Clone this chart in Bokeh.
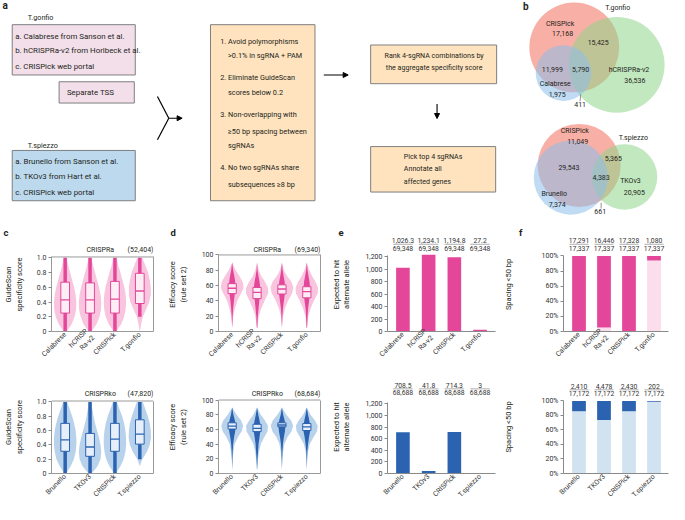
import math
from bokeh.plotting import figure
from bokeh.layouts import column, row
from bokeh.models import (Range1d, FixedTicker, NumeralTickFormatter, PrintfTickFormatter,
                          Arrow, NormalHead, LinearAxis, Span)
from bokeh.core.properties import value
from bokeh.embed import file_html
from bokeh.resources import INLINE

FONT = "Roboto"
SX = 669 / 685
SY = 504 / 520
INK = "#231f20"
GRAY = "#8a8a8a"
BOXC = "#9a9a9a"

# ---------------- data ----------------
gonfio_sources = ["a. Calabrese from Sanson et al.", "b. hCRISPRa-v2 from Horlbeck et al.",
                  "c. CRISPick web portal"]
spiezzo_sources = ["a. Brunello from Sanson et al.", "b. TKOv3 from Hart et al.",
                   "c. CRISPick web portal"]
filter_steps = ["1. Avoid polymorphisms", ">0.1% in sgRNA + PAM", "2. Eliminate GuideScan",
                "scores below 0.2", "3. Non-overlapping with", "\u226550 bp spacing between",
                "sgRNAs", "4. No two sgRNAs share", "subsequences \u22658 bp"]
rank_text = ["Rank 4-sgRNA combinations by", "the aggregate specificity score"]
pick_text = ["Pick top 4 sgRNAs", "Annotate all", "affected genes"]

venn_a_text = ["CRISPick", "17,168", "15,425", "11,999", "5,790", "hCRISPRa-v2", "36,536",
               "Calabrese", "1,975", "411"]
venn_o_text = ["CRISPick", "11,049", "5,365", "29,543", "4,383", "TKOv3", "20,905",
               "Brunello", "7,374", "661"]

crispra_libs = ["Calabrese", "hCRISP\nRa-v2", "CRISPick", "T.gonfio"]
crisprko_libs = ["Brunello", "TKOv3", "CRISPick", "T.spiezzo"]
cats = [1, 2, 3, 4]

# c: GuideScan specificity
spec_levels = [0.0, 0.05, 0.1, 0.2, 0.3, 0.4, 0.5, 0.6, 0.7, 0.8, 0.9, 1.0]
spec_a_width = [
    [0.06, 0.16, 0.26, 0.38, 0.44, 0.45, 0.42, 0.36, 0.28, 0.20, 0.12, 0.06],
    [0.06, 0.16, 0.26, 0.38, 0.44, 0.45, 0.42, 0.36, 0.28, 0.20, 0.12, 0.06],
    [0.06, 0.15, 0.25, 0.37, 0.43, 0.45, 0.43, 0.38, 0.30, 0.22, 0.13, 0.07],
    [0.00, 0.03, 0.05, 0.12, 0.25, 0.38, 0.44, 0.44, 0.40, 0.33, 0.22, 0.10],
]
spec_o_width = [
    [0.05, 0.12, 0.22, 0.35, 0.42, 0.45, 0.45, 0.42, 0.36, 0.28, 0.18, 0.08],
    [0.06, 0.18, 0.30, 0.42, 0.45, 0.42, 0.36, 0.28, 0.20, 0.14, 0.09, 0.04],
    [0.05, 0.12, 0.22, 0.35, 0.42, 0.45, 0.45, 0.42, 0.37, 0.29, 0.18, 0.08],
    [0.00, 0.00, 0.00, 0.10, 0.28, 0.40, 0.45, 0.44, 0.40, 0.32, 0.22, 0.12],
]
spec_a_q1 = [0.25, 0.25, 0.25, 0.38]
spec_a_med = [0.43, 0.43, 0.44, 0.55]
spec_a_q3 = [0.67, 0.66, 0.68, 0.79]
spec_a_lo = [0.0, 0.0, 0.0, 0.2]
spec_a_hi = [1.0, 1.0, 1.0, 1.0]
spec_o_q1 = [0.31, 0.24, 0.31, 0.41]
spec_o_med = [0.47, 0.37, 0.48, 0.55]
spec_o_q3 = [0.70, 0.56, 0.70, 0.75]
spec_o_lo = [0.0, 0.0, 0.0, 0.2]
spec_o_hi = [1.0, 1.0, 1.0, 1.0]

# d: efficacy score (rule set 2)
eff_levels = [5, 20, 30, 40, 50, 57, 65, 72, 80, 90]
eff_a_outer = [
    [0.00, 0.04, 0.11, 0.20, 0.36, 0.46, 0.42, 0.30, 0.14, 0.00],
    [0.01, 0.07, 0.17, 0.30, 0.45, 0.44, 0.32, 0.18, 0.07, 0.00],
    [0.00, 0.04, 0.12, 0.24, 0.41, 0.46, 0.38, 0.22, 0.08, 0.00],
    [0.01, 0.06, 0.15, 0.28, 0.44, 0.45, 0.35, 0.22, 0.10, 0.00],
]
eff_a_inner = [
    [0.00, 0.02, 0.04, 0.07, 0.11, 0.13, 0.12, 0.09, 0.04, 0.00],
    [0.01, 0.03, 0.06, 0.09, 0.13, 0.13, 0.10, 0.06, 0.02, 0.00],
    [0.00, 0.02, 0.04, 0.08, 0.12, 0.13, 0.11, 0.07, 0.03, 0.00],
    [0.01, 0.03, 0.05, 0.09, 0.13, 0.13, 0.11, 0.07, 0.03, 0.00],
]
eff_o_outer = [
    [0.00, 0.02, 0.05, 0.10, 0.24, 0.38, 0.44, 0.36, 0.18, 0.00],
    [0.01, 0.04, 0.08, 0.15, 0.30, 0.42, 0.44, 0.32, 0.15, 0.00],
    [0.00, 0.02, 0.05, 0.10, 0.23, 0.38, 0.45, 0.37, 0.18, 0.00],
    [0.00, 0.02, 0.05, 0.12, 0.28, 0.41, 0.44, 0.33, 0.15, 0.00],
]
eff_o_inner = [
    [0.00, 0.01, 0.02, 0.04, 0.08, 0.12, 0.14, 0.11, 0.05, 0.00],
    [0.00, 0.02, 0.04, 0.06, 0.10, 0.13, 0.14, 0.10, 0.05, 0.00],
    [0.00, 0.01, 0.02, 0.04, 0.08, 0.12, 0.14, 0.11, 0.05, 0.00],
    [0.00, 0.01, 0.02, 0.05, 0.09, 0.13, 0.14, 0.10, 0.05, 0.00],
]
eff_a_q1 = [49.5, 43.0, 49.0, 44.0]
eff_a_med = [56.5, 51.0, 55.5, 52.0]
eff_a_q3 = [62.5, 57.5, 61.0, 58.5]
eff_o_q1 = [60.5, 57.0, 63.5, 58.5]
eff_o_med = [64.5, 61.5, 66.0, 63.5]
eff_o_q3 = [69.0, 67.0, 69.0, 68.0]

# e: expected to hit alternate allele
allele_a = [1026.3, 1234.1, 1194.8, 27.2]
allele_a_num = ["1,026.3", "1,234.1", "1,194.8", "27.2"]
allele_a_den = ["69,348", "69,348", "69,348", "69,348"]
allele_o = [708.5, 41.8, 714.3, 3.0]
allele_o_num = ["708.5", "41.8", "714.3", "3"]
allele_o_den = ["68,688", "68,688", "68,688", "68,688"]

# f: spacing < 50 bp
spacing_a_hit = [17291, 16446, 17328, 1080]
spacing_a_tot = [17337, 17337, 17337, 17337]
spacing_o_hit = [2410, 4478, 2430, 202]
spacing_o_tot = [17172, 17172, 17172, 17172]

PINK = "#E4479A"
PINK_V = "#F8C4DE"
PINK_BOX = "#FDEEF6"
PINK_F = "#FCDDEC"
BLUE = "#2B63B0"
BLUE_V = "#B8D2EC"
BLUE_BOX = "#E7F0FA"
BLUE_F = "#D1E3F0"

# ---------------- geometry (reference pixel frame) ----------------
TOP_END = 245
COLS = [(0, 168), (168, 336), (336, 512), (512, 685)]
ROWS = [(245, 392), (392, 520)]
FRAME_Y = [(245, 342), (392, 492)]

# ---------------- top: schematic (a) and Venn diagrams (b) ----------------
TOP_H = round(TOP_END * SY)
top = figure(width=669, height=TOP_H, x_range=Range1d(0, 685), y_range=Range1d(TOP_END, 0),
             toolbar_location=None, output_backend="svg", title=None, min_border=0,
             x_axis_location=None, y_axis_location=None)
top.grid.visible = False
top.outline_line_color = None


def ttext(p, xs, ys, texts, align="left", size="7px", bold=False, color=INK):
    p.text(x=xs, y=ys, text=texts, text_align=align, text_baseline="middle",
           text_font=value(FONT), text_font_size=size, text_color=color,
           text_font_style="bold" if bold else "normal")


top.quad(left=[12, 60, 12, 215, 379, 379], right=[138, 137, 138, 322, 508, 507],
         top=[25, 84, 155, 25, 46, 151], bottom=[77, 106, 207, 207, 86, 198],
         fill_color=["#F3DFEA", "#F3DFEA", "#BCD9EE", "#FEE3BE", "#FEE3BE", "#FEE3BE"],
         line_color="#7f7f7f", line_width=1)
ttext(top, [2, 535], [5, 6], ["a", "b"], size="10px", bold=True)
ttext(top, [3, 174, 346, 531], [239.5, 239.5, 239.5, 239.5], ["c", "d", "e", "f"],
      size="9.5px", bold=True)
ttext(top, [28, 28], [18, 150], ["T.gonfio", "T.spiezzo"], size="7.2px")
ttext(top, [15] * 3, [37, 52, 68], gonfio_sources, size="7.9px")
ttext(top, [68], [95], ["Separate TSS"], size="7.9px")
ttext(top, [15] * 3, [166, 182, 198], spiezzo_sources, size="7.9px")
ttext(top, [225, 233, 225, 233, 225, 233, 233, 225, 233],
      [42, 57, 80, 95, 118, 135, 150, 173, 190], filter_steps, size="7.3px")
ttext(top, [444, 444], [57, 69], rank_text, align="center", size="7.1px")
ttext(top, [413] * 3, [161, 174, 187], pick_text, size="7.1px")

top.line([160.7, 172.3], [99.3, 121.7], line_color="black", line_width=1.2)
top.line([160.7, 172.3], [144.0, 121.7], line_color="black", line_width=1.2)
for (x0, y0, x1, y1) in [(172.3, 121.7, 186, 121.7), (331, 77, 356, 77), (447, 107, 447, 122)]:
    top.add_layout(Arrow(end=NormalHead(size=5, fill_color="black", line_color="black"),
                         x_start=x0, y_start=y0, x_end=x1, y_end=y1,
                         line_color="black", line_width=1.1))

top.circle(x=[587.5, 631, 576.5], y=[48.5, 66.5, 75], radius=[46, 49, 28.5],
           fill_color=["#F47C6A", "#8FD68A", "#8DBDEB"], fill_alpha=[0.6, 0.55, 0.55],
           line_color=None)
top.circle(x=[592.5, 639, 584], y=[170.5, 182.5, 183], radius=[42.5, 33.5, 38],
           fill_color=["#F47C6A", "#8FD68A", "#8DBDEB"], fill_alpha=[0.6, 0.55, 0.55],
           line_color=None)
ttext(top, [632, 648], [8, 142], ["T.gonfio", "T.spiezzo"], align="center")
ttext(top, [573, 575.5, 612, 565, 594, 643.5, 649.5, 568, 570, 593.5],
      [24, 34, 43, 71, 71, 72, 83, 86, 97, 108], venn_a_text, align="center")
ttext(top, [588, 591, 627.5, 582, 615, 645, 649, 567, 570, 614],
      [135, 146, 163, 173, 183, 187, 198, 200, 211, 218], venn_o_text, align="center")
top.segment(x0=[594, 615], y0=[97, 209], x1=[593.5, 615], y1=[104, 215],
            line_color="#777777", line_width=0.8)

# ---------------- panels c-f ----------------
ROW_PX = [round(ROWS[0][0] * SY), round(ROWS[0][1] * SY), 504]


def make_panel(col, rw, fx, ppu):
    cx0, cx1 = COLS[col]
    ry0, ry1 = ROWS[rw]
    fx0, fx1, xr = fx
    fy0, fy1 = FRAME_Y[rw]
    yr = (0, (fy1 - fy0) / ppu)
    W = round(cx1 * SX) - round(cx0 * SX)
    H = ROW_PX[rw + 1] - ROW_PX[rw]
    left = round((fx0 - cx0) * SX)
    right = W - round((fx1 - cx0) * SX)
    tp = round((fy0 - ry0) * SY)
    bt = H - round((fy1 - ry0) * SY)
    p = figure(width=W, height=H, x_range=Range1d(*xr), y_range=Range1d(*yr),
               toolbar_location=None, output_backend="svg", title=None,
               min_border_left=left, min_border_right=right,
               min_border_top=tp, min_border_bottom=bt)
    p.grid.visible = False
    p.outline_line_color = None

    def X(px):
        return xr[0] + (px - fx0) / (fx1 - fx0) * (xr[1] - xr[0])

    def Y(py):
        return (fy1 - py) / ppu
    return p, X, Y


def style(p, libs, yticks, ybounds, ylabel, lstand, fmt=None, overrides=None, boxed=False):
    xa = p.xaxis[0]
    ya = p.yaxis[0]
    xa.ticker = FixedTicker(ticks=cats)
    xa.major_label_overrides = {c: t for c, t in zip(cats, libs)}
    xa.major_label_orientation = math.pi / 4
    xa.major_tick_line_color = None
    xa.minor_tick_line_color = None
    xa.major_tick_out = 0
    xa.major_tick_in = 0
    xa.major_label_standoff = 2
    xa.axis_line_color = BOXC if boxed else GRAY
    for ax in (xa, ya):
        ax.major_label_text_font = FONT
        ax.major_label_text_font_size = "7px"
        ax.major_label_text_color = "#333333"
    ya.ticker = FixedTicker(ticks=yticks)
    ya.minor_tick_line_color = None
    ya.major_tick_in = 0
    ya.major_tick_out = 3
    ya.major_tick_line_color = GRAY
    ya.axis_line_color = BOXC if boxed else GRAY
    ya.major_label_standoff = 2
    ya.bounds = ybounds
    ya.axis_label = ylabel
    ya.axis_label_text_font = FONT
    ya.axis_label_text_font_size = "7.5px"
    ya.axis_label_text_font_style = "normal"
    ya.axis_label_text_color = INK
    ya.axis_label_standoff = lstand
    if fmt is not None:
        ya.formatter = fmt
    if overrides is not None:
        ya.major_label_overrides = overrides
    if boxed:
        rax = LinearAxis(ticker=FixedTicker(ticks=[]), bounds=ybounds, axis_line_color=BOXC,
                         major_tick_line_color=None, minor_tick_line_color=None,
                         major_label_text_font_size="0px")
        p.add_layout(rax, "right")
        p.add_layout(Span(location=ybounds[1], dimension="width", line_color=BOXC,
                          line_width=1))


def violin(p, levels, widths, color):
    xs, ys = [], []
    for c, w in zip(cats, widths):
        xs.append([c - v for v in w] + [c + v for v in reversed(w)])
        ys.append(list(levels) + list(reversed(levels)))
    p.patches(xs, ys, fill_color=color, line_color=None)


def boxes(p, q1, med, q3, bw, dark, fill):
    p.quad(left=[c - bw / 2 for c in cats], right=[c + bw / 2 for c in cats],
           bottom=q1, top=q3, fill_color=fill, line_color=dark, line_width=1)
    p.segment(x0=[c - bw / 2 for c in cats], x1=[c + bw / 2 for c in cats],
              y0=med, y1=med, line_color=dark, line_width=1.3)


def ptext(p, xs, ys, texts, align="center", size="7px", color=INK):
    p.text(x=xs, y=ys, text=texts, text_align=align, text_baseline="middle",
           text_font=value(FONT), text_font_size=size, text_color=color)


def header(p, Y, nums, dens, ynum, yden, yline):
    ptext(p, cats, [Y(ynum)] * 4, nums, size="6.8px", color="#333333")
    ptext(p, cats, [Y(yden)] * 4, dens, size="6.8px", color="#333333")
    p.segment(x0=[c - 0.38 for c in cats], x1=[c + 0.38 for c in cats],
              y0=[Y(yline)] * 4, y1=[Y(yline)] * 4, line_color="#9a9a9a", line_width=0.8)


spec_ticks = [0, 0.2, 0.4, 0.6, 0.8, 1.0]
CX = (42, 157, (0.45, 4.55))
DX = (213, 328, (0.45, 4.55))
EX = (389, 507, (0.4, 4.6))
FX = (569, 684, (0.38, 4.58))

# c
panels = []
for rw, (libs, widths, q1, med, q3, lo, hi, dark, light, boxfill, ttl, n, ppu, ty) in enumerate([
        (crispra_libs, spec_a_width, spec_a_q1, spec_a_med, spec_a_q3, spec_a_lo, spec_a_hi,
         PINK, PINK_V, PINK_BOX, "CRISPRa", "(52,404)", 76.0, 258),
        (crisprko_libs, spec_o_width, spec_o_q1, spec_o_med, spec_o_q3, spec_o_lo, spec_o_hi,
         BLUE, BLUE_V, BLUE_BOX, "CRISPRko", "(47,820)", 77.0, 407)]):
    p, X, Y = make_panel(0, rw, CX, ppu)
    style(p, libs, spec_ticks, (0, 1.012), "GuideScan\nspecificity score", 10,
          fmt=PrintfTickFormatter(format="%.1f"), overrides={0: "0"}, boxed=True)
    violin(p, spec_levels, widths, light)
    p.segment(x0=cats, x1=cats, y0=lo, y1=hi, line_color=dark, line_width=3.5)
    boxes(p, q1, med, q3, 0.35, dark, boxfill)
    ptext(p, [X(97)], [Y(ty)], [ttl])
    ptext(p, [X(157)], [Y(ty)], [n], align="right")
    panels.append(p)
c_top, c_bot = panels

# d
panels = []
for rw, (libs, outer, inner, q1, med, q3, dark, light, boxfill, ttl, n, ty) in enumerate([
        (crispra_libs, eff_a_outer, eff_a_inner, eff_a_q1, eff_a_med, eff_a_q3,
         PINK, PINK_V, PINK_BOX, "CRISPRa", "(69,340)", 258),
        (crisprko_libs, eff_o_outer, eff_o_inner, eff_o_q1, eff_o_med, eff_o_q3,
         BLUE, BLUE_V, BLUE_BOX, "CRISPRko", "(68,684)", 407)]):
    p, X, Y = make_panel(1, rw, DX, 0.79)
    style(p, libs, [0, 20, 40, 60, 80, 100], (0, 100), "Efficacy score\n(rule set 2)", 11,
          boxed=True)
    violin(p, eff_levels, outer, light)
    violin(p, eff_levels, inner, dark)
    boxes(p, q1, med, q3, 0.33, dark, boxfill)
    ptext(p, [X(268)], [Y(ty)], [ttl])
    ptext(p, [X(328)], [Y(ty)], [n], align="right")
    panels.append(p)
d_top, d_bot = panels

# e
panels = []
for rw, (libs, vals, nums, dens, color, ppu, hy) in enumerate([
        (crispra_libs, allele_a, allele_a_num, allele_a_den, PINK, 77 / 1200, (248, 256, 252)),
        (crisprko_libs, allele_o, allele_o_num, allele_o_den, BLUE, 75 / 1200, (397, 405, 401))]):
    p, X, Y = make_panel(2, rw, EX, ppu)
    style(p, libs, [0, 200, 400, 600, 800, 1000, 1200], (0, 1230),
          "Expected to hit\nalternate allele", 11, fmt=NumeralTickFormatter(format="0,0"))
    p.vbar(x=cats, top=vals, width=0.53, fill_color=color, line_color=None)
    header(p, Y, nums, dens, *hy)
    panels.append(p)
e_top, e_bot = panels

# f
panels = []
for rw, (libs, hit, tot, dark, light, hy) in enumerate([
        (crispra_libs, spacing_a_hit, spacing_a_tot, PINK, PINK_F, (248, 256, 252)),
        (crisprko_libs, spacing_o_hit, spacing_o_tot, BLUE, BLUE_F, (398, 406, 402))]):
    p, X, Y = make_panel(3, rw, FX, 78.0)
    style(p, libs, [0, 0.2, 0.4, 0.6, 0.8, 1.0], (0, 1), "Spacing <50 bp", 26,
          fmt=NumeralTickFormatter(format="0%"))
    frac = [h / t for h, t in zip(hit, tot)]
    p.vbar(x=cats, bottom=0, top=[1 - f for f in frac], width=0.55, fill_color=light,
           line_color=None)
    p.vbar(x=cats, bottom=[1 - f for f in frac], top=1, width=0.55, fill_color=dark,
           line_color=None)
    header(p, Y, [f"{h:,}" for h in hit], [f"{t:,}" for t in tot], *hy)
    panels.append(p)
f_top, f_bot = panels

layout = column(top, row(c_top, d_top, e_top, f_top), row(c_bot, d_bot, e_bot, f_bot))
open("out.html", "w").write(file_html(layout, INLINE))
